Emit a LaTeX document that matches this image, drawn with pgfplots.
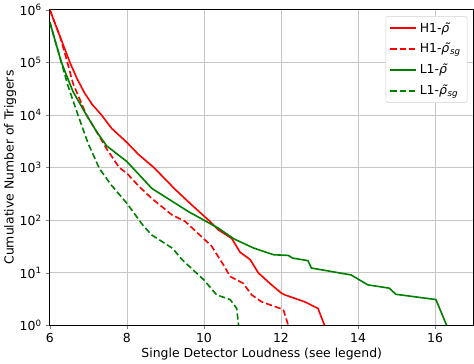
\documentclass[border=0pt]{standalone}
\usepackage{pgfplots}
\pgfplotsset{compat=1.18}
\usepackage{fontspec}
\setmainfont{DejaVu Sans}
\definecolor{mplred}{HTML}{FF0000}
\definecolor{mplgreen}{HTML}{008000}
\newcommand{\rt}{\textit{ρ̃}}
\begin{document}
\begin{tikzpicture}
\begin{axis}[
  scale only axis,
  width=341pt, height=254pt,
  ymode=log,
  xmin=6, xmax=17, ymin=1, ymax=1e6,
  xtick={6,8,10,12,14,16},
  ytick={1,10,100,1000,10000,100000,1000000},
  yticklabels={10\textsuperscript{0},10\textsuperscript{1},10\textsuperscript{2},10\textsuperscript{3},10\textsuperscript{4},10\textsuperscript{5},10\textsuperscript{6}},
  log basis y=10,
  /pgf/number format/assume math mode=true,
  ticklabel style={font=\fontsize{10}{12}\selectfont},
  label style={font=\fontsize{10}{12}\selectfont},
  xlabel={Single Detector Loudness (see legend)},
  ylabel={Cumulative Number of Triggers},
  xlabel style={yshift=3pt},
  ylabel style={yshift=-4pt},
  tick align=outside,
  xtick pos=bottom, ytick pos=left,
  major tick length=3pt,
  minor tick length=1.8pt,
  grid=major,
  grid style={gray!45, line width=0.6pt},
  axis line style={line width=0.6pt},
  legend cell align=left,
  legend style={at={(0.985,0.98)}, anchor=north east, draw=gray!35, rounded corners=2pt,
    font=\fontsize{10}{12}\selectfont, row sep=3.5pt, inner sep=3pt},
  legend image code/.code={\draw[#1] (0pt,0pt) -- (21pt,0pt);},
]
\addplot[mplred, line width=1.3pt] coordinates {
(6,1e6) (6.13,5.6e5) (6.26,3.16e5) (6.39,1.78e5) (6.52,1e5) (6.7,5.0e4) (6.9,2.63e4) (7.1,1.58e4) (7.34,1e4) (7.6,5.6e3) (8,3.0e3) (8.3,1.78e3) (8.7,1e3) (9.26,3.8e2) (9.7,1.9e2) (10.12,1e2) (10.38,6.5e1) (10.72,4.5e1) (10.94,2.45e1) (11.2,1.78e1) (11.41,1e1) (11.71,6.3) (12.01,4.1) (12.1,3.8) (12.62,2.8) (12.96,2.1) (13.13,1)
};
\addlegendentry{H1-\rt}
\addplot[mplred, line width=1.3pt, dash pattern=on 5pt off 2.4pt] coordinates {
(6,1e6) (6.13,5.6e5) (6.26,3.16e5) (6.43,1.17e5) (6.6,4e4) (6.95,1e4) (7.2,5e3) (7.47,2.3e3) (7.8,1e3) (8,7.8e2) (8.3,4.5e2) (8.65,2.57e2) (9.17,1.26e2) (9.51,9.5e1) (10,4.4e1) (10.2,3.2e1) (10.51,1.4e1) (10.68,8.5) (11.02,6.3) (11.24,3.8) (11.5,2.8) (12.06,2.0) (12.19,1)
};
\addlegendentry{H1-\rt\textsubscript{\textit{sg}}}
\addplot[mplgreen, line width=1.3pt] coordinates {
(6,5.8e5) (6.15,2.4e5) (6.3,1e5) (6.6,2.8e4) (6.95,1e4) (7.2,5e3) (7.47,2.6e3) (8,1.3e3) (8.65,4e2) (9.6,1.45e2) (10,1e2) (10.38,7e1) (10.78,4.4e1) (11.29,2.95e1) (11.81,2.2e1) (12.19,2.14e1) (12.3,1.9e1) (12.7,1.7e1) (12.79,1.23e1) (13.82,9.1) (14.25,5.9) (14.81,5.1) (14.98,3.9) (16.02,3.1) (16.3,1)
};
\addlegendentry{L1-\rt}
\addplot[mplgreen, line width=1.3pt, dash pattern=on 5pt off 2.4pt] coordinates {
(6,5.8e5) (6.15,2.4e5) (6.3,1e5) (6.47,3.6e4) (6.73,1e4) (7,2.8e3) (7.29,9.5e2) (7.6,4.6e2) (8,2.09e2) (8.41,8.1e1) (8.65,5.2e1) (9.19,2.9e1) (9.43,1.78e1) (10,7.3) (10.33,3.8) (10.68,3.1) (10.85,2.1) (10.9,1)
};
\addlegendentry{L1-\rt\textsubscript{\textit{sg}}}
\end{axis}
\end{tikzpicture}
\end{document}
